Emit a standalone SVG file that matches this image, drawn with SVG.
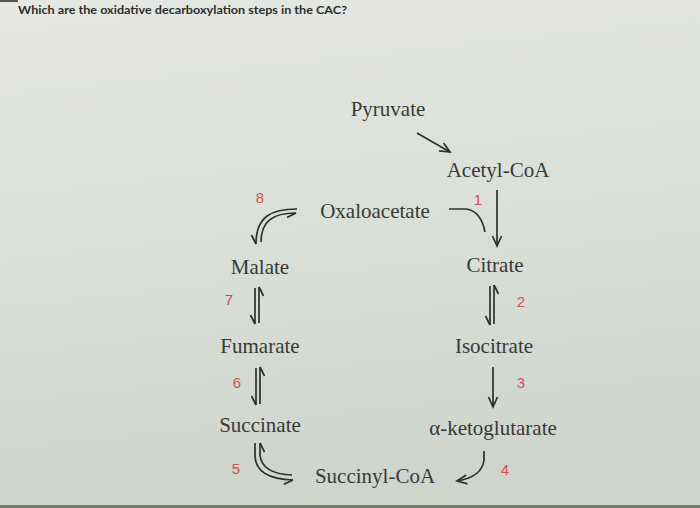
<svg xmlns="http://www.w3.org/2000/svg" width="700" height="508" viewBox="0 0 700 508">
<defs>
<linearGradient id="bg" x1="0" y1="0" x2="0.15" y2="1">
<stop offset="0" stop-color="#e5e7e3"/>
<stop offset="0.5" stop-color="#dadfd8"/>
<stop offset="1" stop-color="#cfd4cd"/>
</linearGradient>
<marker id="v" markerUnits="userSpaceOnUse" markerWidth="12" markerHeight="12" refX="10" refY="5" orient="auto" overflow="visible">
<path d="M0,0.5 L10,5 L0,9.5" fill="none" stroke="#2f2f2f" stroke-width="1.7"/>
</marker>
<marker id="h" markerUnits="userSpaceOnUse" markerWidth="12" markerHeight="12" refX="9" refY="5" orient="auto" overflow="visible">
<path d="M9,5 L0,9.5" fill="none" stroke="#2f2f2f" stroke-width="1.7"/>
</marker>
</defs>
<style>
.t{font-family:"Liberation Serif","Times New Roman",serif;font-size:21px;fill:#393939;text-anchor:middle}
.n{font-family:"Liberation Sans",Arial,sans-serif;font-size:15px;fill:#d24f55;text-anchor:middle}
.a{fill:none;stroke:#2f2f2f;stroke-width:1.7}
.av{marker-end:url(#v)}
.ah{marker-end:url(#h)}
</style>
<rect width="700" height="508" fill="url(#bg)"/>
<rect x="0" y="505" width="700" height="3" fill="#75786f"/>
<rect x="0" y="0" width="18" height="2" fill="#555"/>
<text x="18" y="14" font-family="Lato,'Open Sans',sans-serif" font-size="12" font-weight="bold" fill="#2e2e2e" textLength="329" lengthAdjust="spacingAndGlyphs">Which are the oxidative decarboxylation steps in the CAC?</text>

<g id="connectors">
<path id="c-pyr" class="a av" d="M417,133 L450,152"/>
<path id="c1" class="a av" d="M497,190 L497,246"/>
<path id="c1b" class="a" d="M449,209 L466,209 Q481,211 485,232"/>
<path id="c2a" class="a ah" d="M490,286 L490,325"/>
<path id="c2b" class="a ah" d="M494,324 L494,285"/>
<path id="c3" class="a av" d="M493,367 L493,407"/>
<path id="c4" class="a av" d="M484,451 L484,460 Q482,477 457,481"/>
<path id="c5a" class="a ah" d="M255,443 L255,456 Q256,479 293,480"/>
<path id="c5b" class="a ah" d="M292,475 Q262,474 260,455 L260,443"/>
<path id="c6a" class="a ah" d="M256,368 L256,405"/>
<path id="c6b" class="a ah" d="M260,404 L260,367"/>
<path id="c7a" class="a ah" d="M255,288 L255,324"/>
<path id="c7b" class="a ah" d="M259,323 L259,287"/>
<path id="c8a" class="a ah" d="M297,209 C272,209 256,216 256,244"/>
<path id="c8b" class="a ah" d="M261,242 C261,221 273,213 296,213"/>
</g>

<g id="labels">
<text class="n" x="260" y="203">8</text>
<text class="n" x="478" y="205">1</text>
<text class="n" x="229" y="305">7</text>
<text class="n" x="521" y="307">2</text>
<text class="n" x="237" y="388">6</text>
<text class="n" x="521" y="388">3</text>
<text class="n" x="236" y="474">5</text>
<text class="n" x="505" y="475">4</text>
</g>

<g id="pyruvate"><text class="t" x="388" y="116">Pyruvate</text></g>
<g id="acetyl-coa"><text class="t" x="498" y="177">Acetyl-CoA</text></g>
<g id="oxaloacetate"><text class="t" x="375" y="218">Oxaloacetate</text></g>
<g id="malate"><text class="t" x="260" y="274">Malate</text></g>
<g id="citrate"><text class="t" x="495" y="272">Citrate</text></g>
<g id="fumarate"><text class="t" x="260" y="353">Fumarate</text></g>
<g id="isocitrate"><text class="t" x="494" y="353">Isocitrate</text></g>
<g id="succinate"><text class="t" x="260" y="432">Succinate</text></g>
<g id="a-ketoglutarate"><text class="t" x="493" y="435">α-ketoglutarate</text></g>
<g id="succinyl-coa"><text class="t" x="375" y="483">Succinyl-CoA</text></g>
</svg>
